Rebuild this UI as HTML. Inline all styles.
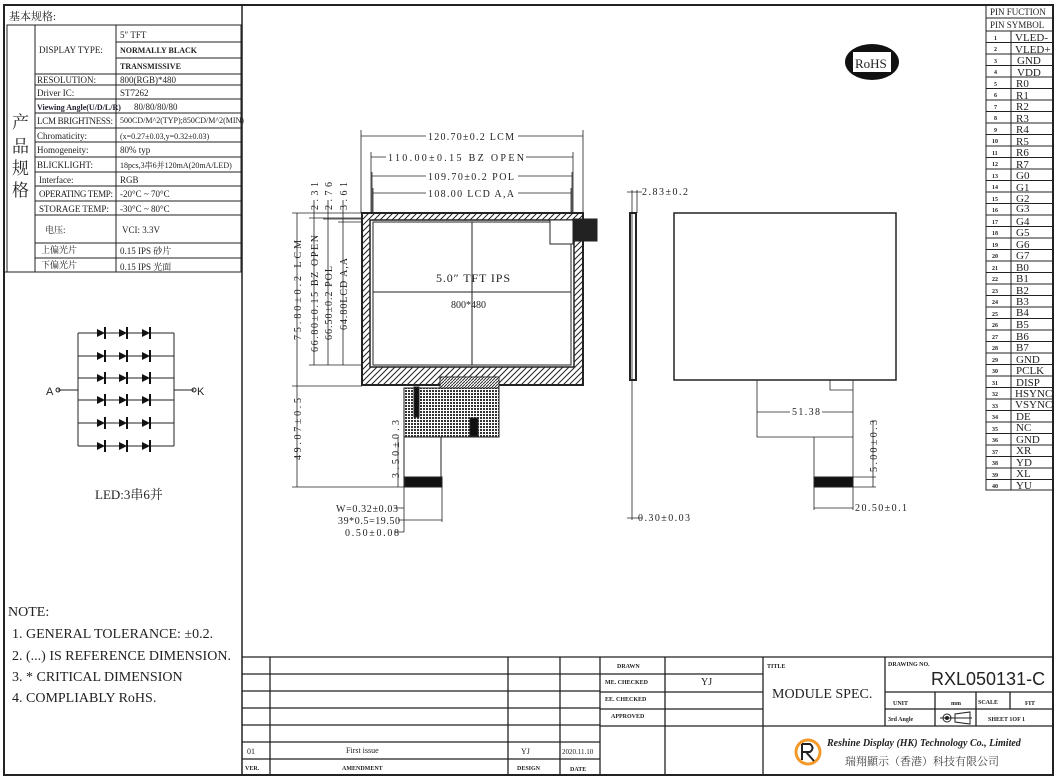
<!DOCTYPE html>
<html><head><meta charset="utf-8"><style>
html,body{margin:0;padding:0;background:#fff}
svg{display:block}
text{font-family:"Liberation Serif","Noto Serif CJK SC",serif;fill:#222}
.s{font-family:"Liberation Sans","Noto Sans CJK SC",sans-serif}
</style></head><body>
<svg width="1058" height="779" viewBox="0 0 1058 779" xmlns="http://www.w3.org/2000/svg">
<defs>
<pattern id="hat" width="6" height="6" patternUnits="userSpaceOnUse"><rect width="6" height="6" fill="#fff"/><path d="M0 6L6 0M-1 1L1 -1M5 7L7 5" stroke="#222" stroke-width="1"/></pattern>
<pattern id="chk" width="3" height="3" patternUnits="userSpaceOnUse"><rect width="3" height="3" fill="#fff"/><rect width="2" height="2" fill="#333"/></pattern>
<pattern id="dg" width="3" height="3" patternUnits="userSpaceOnUse"><rect width="3" height="3" fill="#fff"/><path d="M0 3L3 0" stroke="#333"/></pattern>
</defs>
<g fill="none" stroke="#222">
<rect x="4" y="5" width="1049" height="770" stroke-width="2"/>
<line x1="242" y1="5" x2="242" y2="775" stroke-width="1.5"/>
<rect x="7" y="25" width="234" height="247"/>
<line x1="35" y1="25" x2="35" y2="272"/>
<line x1="116" y1="25" x2="116" y2="272"/>
<path d="M116 42H241M116 58H241M35 74H241M35 85H241M35 99H241M35 113H241M35 128H241M35 142H241M35 157H241M35 172H241M35 186H241M35 201H241M35 215H241M35 243H241M35 258H241"/>
<line x1="5" y1="272" x2="242" y2="272"/>
<path d="M78 333V446M174 333V446M58 390H78M174 390H194M78 333H174M78 356H174M78 378H174M78 400H174M78 423H174M78 446H174"/>
<circle cx="58" cy="390" r="2"/><circle cx="194" cy="390" r="2"/>
</g>
<g fill="#111">
<path d="M97 329l8 4-8 4zM119 329l8 4-8 4zM142 329l8 4-8 4z"/>
<path d="M97 352l8 4-8 4zM119 352l8 4-8 4zM142 352l8 4-8 4z"/>
<path d="M97 374l8 4-8 4zM119 374l8 4-8 4zM142 374l8 4-8 4z"/>
<path d="M97 396l8 4-8 4zM119 396l8 4-8 4zM142 396l8 4-8 4z"/>
<path d="M97 419l8 4-8 4zM119 419l8 4-8 4zM142 419l8 4-8 4z"/>
<path d="M97 442l8 4-8 4zM119 442l8 4-8 4zM142 442l8 4-8 4z"/>
</g>
<g stroke="#111" stroke-width="2">
<path d="M105 327v12M127 327v12M150 327v12M105 350v12M127 350v12M150 350v12M105 372v12M127 372v12M150 372v12M105 394v12M127 394v12M150 394v12M105 417v12M127 417v12M150 417v12M105 440v12M127 440v12M150 440v12"/>
</g>
<text x="46" y="395" font-size="11" class="s">A</text><text x="197" y="395" font-size="11" class="s">K</text>
<text x="95" y="499" font-size="13">LED:3串6并</text>
<g font-size="9">
<text x="9" y="20" font-size="11">基本规格:</text>
<text x="39" y="53">DISPLAY TYPE:</text>
<text x="120" y="38">5″ TFT</text>
<text x="120" y="53" font-weight="bold" font-size="8">NORMALLY BLACK</text>
<text x="120" y="69" font-weight="bold" font-size="8">TRANSMISSIVE</text>
<text x="37" y="83">RESOLUTION:</text><text x="120" y="83">800(RGB)*480</text>
<text x="37" y="96">Driver IC:</text><text x="120" y="96">ST7262</text>
<text x="37" y="110" font-weight="bold" font-size="8" style="fill:#223">Viewing Angle(U/D/L/R)</text><text x="134" y="110">80/80/80/80</text>
<text x="37" y="124" textLength="76">LCM BRIGHTNESS:</text><text x="120" y="123" font-size="8">500CD/M^2(TYP);850CD/M^2(MIN)</text>
<text x="37" y="139">Chromaticity:</text><text x="120" y="139" font-size="8">(x=0.27±0.03,y=0.32±0.03)</text>
<text x="37" y="153">Homogeneity:</text><text x="120" y="153">80% typ</text>
<text x="37" y="168">BLICKLIGHT:</text><text x="120" y="168" font-size="8">18pcs,3串6并120mA(20mA/LED)</text>
<text x="39" y="183">Interface:</text><text x="120" y="183">RGB</text>
<text x="39" y="197" textLength="74">OPERATING TEMP:</text><text x="120" y="197">-20°C ~ 70°C</text>
<text x="39" y="212">STORAGE TEMP:</text><text x="120" y="212">-30°C ~ 80°C</text>
<text x="45" y="233">电压:</text><text x="122" y="233">VCI: 3.3V</text>
<text x="41" y="253">上偏光片</text><text x="120" y="254">0.15 IPS 砂片</text>
<text x="41" y="268">下偏光片</text><text x="120" y="270">0.15 IPS 光面</text>
</g>
<g font-size="17"><text x="12" y="128">产</text><text x="12" y="152">品</text><text x="12" y="174">规</text><text x="12" y="196">格</text></g>
<g font-size="14">
<text x="8" y="616">NOTE:</text>
<text x="12" y="638">1. GENERAL TOLERANCE: ±0.2.</text>
<text x="12" y="660">2. (...) IS REFERENCE DIMENSION.</text>
<text x="12" y="681">3. * CRITICAL DIMENSION</text>
<text x="12" y="702">4. COMPLIABLY RoHS.</text>
</g>
<g fill="none" stroke="#222">
<path d="M242 657H600M242 674H600M242 691H600M242 708H600M242 725H600M242 742H600M242 759H600M270 657V775M508 657V775M560 657V775M600 657V775" stroke-width="1.3"/>
<path d="M600 657H1053M600 674H763M600 692H763M600 709H763M600 726H1053M885 692H1053M885 709H1053M665 657V775M763 657V775M885 657V726M935 692V726M976 692V726M1010 692V709" stroke-width="1.3"/>
</g>
<g font-size="8">
<text x="247" y="754">01</text><text x="346" y="753">First issue</text><text x="521" y="754">YJ</text><text x="562" y="754" font-size="7">2020.11.10</text>
<text x="245" y="770" font-size="6" font-weight="bold">VER.</text><text x="342" y="770" font-size="6" font-weight="bold">AMENDMENT</text><text x="517" y="770" font-size="6" font-weight="bold">DESIGN</text><text x="570" y="771" font-size="6" font-weight="bold">DATE</text>
<g font-size="6" font-weight="bold"><text x="617" y="668">DRAWN</text><text x="605" y="684">ME. CHECKED</text><text x="605" y="701">EE. CHECKED</text><text x="611" y="718">APPROVED</text>
<text x="767" y="668">TITLE</text><text x="888" y="666">DRAWING NO.</text><text x="893" y="705">UNIT</text><text x="951" y="705">mm</text><text x="978" y="704">SCALE</text><text x="1025" y="705">FIT</text>
<text x="888" y="721">3rd Angle</text><text x="988" y="721">SHEET 1OF 1</text></g>
<text x="701" y="685" font-size="10">YJ</text>
<text x="772" y="698" font-size="14">MODULE SPEC.</text>
<text x="931" y="685" font-size="18" class="s">RXL050131-C</text>
<circle cx="947" cy="718" r="4" fill="none" stroke="#222"/><circle cx="947" cy="718" r="2" fill="#222"/><path d="M940 718H972M955 714V722L970 724V712Z" fill="none" stroke="#222"/>
<text x="827" y="746" font-size="10" font-weight="bold" font-style="italic">Reshine Display (HK) Technology Co., Limited</text>
<text x="845" y="765" font-size="11" style="fill:#444">瑞翔顯示（香港）科技有限公司</text>
</g>
<circle cx="808" cy="752" r="12" fill="none" stroke="#f39a2a" stroke-width="3"/><path d="M802 744V760M802 744H810Q815 748 810 752H802M806 752L814 761" stroke="#222" stroke-width="2" fill="none"/>
<ellipse cx="872" cy="62" rx="27" ry="18" fill="#111"/><rect x="853" y="52" width="38" height="20" fill="#fff"/><text x="855" y="68" font-size="13">RoHS</text>
<g fill="none" stroke="#222">
<rect x="362" y="213" width="221" height="172" fill="url(#hat)" stroke-width="2"/>
<rect x="370" y="220" width="204" height="147" fill="#fff" stroke-width="1.5"/>
<rect x="373" y="222" width="198" height="143" stroke-width="1"/>
<path d="M472 222V365M373 292H571"/>
<rect x="550" y="220" width="23" height="24" fill="#fff"/>
<rect x="573" y="219" width="24" height="22" fill="#222"/>
<rect x="440" y="377" width="59" height="11" fill="url(#dg)"/>
<path d="M404 388H499V437H441V487H404Z" fill="#fff"/>
<rect x="404" y="388" width="95" height="49" fill="url(#chk)"/>
<rect x="405" y="477" width="37" height="10" fill="#111"/>
<rect x="470" y="418" width="8" height="18" fill="#111"/>
<rect x="414" y="387" width="5" height="30" fill="#111"/>
<path d="M361 136H583M371 157H573M372 176H572M373 193H571M361 130V213M583 130V213M371 152V213M573 152V213M372 172V213M572 172V213M373 188V213M571 188V213" stroke-width="0.8"/>
<path d="M297 213V487M314 218V365M328 219V365M343 222V365M292 213H362M292 386H362M292 487H404M309 218H362M323 219H362M338 222H362M309 365H362M323 365H362M338 365H362" stroke-width="0.8"/>
<path d="M314 200V218M328 200V219M343 200V222M398 437V487M404 487V532M442 487V522M398 520H442M394 508H404M394 532H404" stroke-width="0.8"/>
<rect x="630" y="213" width="6" height="167" stroke-width="2"/>
<path d="M632 190V520M637 190V213M627 192H642M627 518H642" stroke-width="0.8"/>
<rect x="674" y="213" width="222" height="167" stroke-width="1.5"/>
<path d="M757 380V437H814V487H853V380M830 380V390H853M814 437H853" stroke-width="0.8"/>
<rect x="814" y="477" width="39" height="10" fill="#111"/>
<path d="M757 412H853M853 477H876M853 487H876M873 420V487M814 487V510M853 487V510M814 508H853" stroke-width="0.8"/>
</g>
<g fill="none" stroke="#222">
<rect x="986" y="5" width="67" height="485"/>
<path d="M986 18H1053M986 31H1053M1011 31V490"/>
<path d="M986 42.5H1053M986 54H1053M986 65.5H1053M986 77H1053M986 88.5H1053M986 100H1053M986 111.5H1053M986 123H1053M986 134.5H1053M986 146H1053M986 157.5H1053M986 169H1053M986 180.5H1053M986 192H1053M986 203.5H1053M986 215H1053M986 226.5H1053M986 238H1053M986 249.5H1053M986 261H1053M986 272.5H1053M986 284H1053M986 295.5H1053M986 307H1053M986 318.5H1053M986 330H1053M986 341.5H1053M986 353H1053M986 364.5H1053M986 376H1053M986 387.5H1053M986 399H1053M986 410.5H1053M986 422H1053M986 433.5H1053M986 445H1053M986 456.5H1053M986 468H1053M986 479.5H1053"/>
</g>
<g class="s" font-size="9">
<text x="990" y="15">PIN FUCTION</text><text x="990" y="28">PIN SYMBOL</text>
</g>
<g class="s" font-size="6" font-weight="bold">
<text x="994" y="40">1</text><text x="994" y="51">2</text><text x="994" y="63">3</text><text x="994" y="74">4</text><text x="994" y="86">5</text><text x="994" y="97">6</text><text x="994" y="109">7</text><text x="994" y="120">8</text><text x="994" y="132">9</text><text x="992" y="143">10</text><text x="992" y="155">11</text><text x="992" y="166">12</text><text x="992" y="178">13</text><text x="992" y="189">14</text><text x="992" y="201">15</text><text x="992" y="212">16</text><text x="992" y="224">17</text><text x="992" y="235">18</text><text x="992" y="247">19</text><text x="992" y="258">20</text><text x="992" y="270">21</text><text x="992" y="281">22</text><text x="992" y="293">23</text><text x="992" y="304">24</text><text x="992" y="316">25</text><text x="992" y="327">26</text><text x="992" y="339">27</text><text x="992" y="350">28</text><text x="992" y="362">29</text><text x="992" y="373">30</text><text x="992" y="385">31</text><text x="992" y="396">32</text><text x="992" y="408">33</text><text x="992" y="419">34</text><text x="992" y="431">35</text><text x="992" y="442">36</text><text x="992" y="454">37</text><text x="992" y="465">38</text><text x="992" y="477">39</text><text x="992" y="488">40</text>
</g>
<g class="s" font-size="11">
<text x="1015" y="41">VLED-</text><text x="1015" y="53">VLED+</text><text x="1017" y="64">GND</text><text x="1017" y="76">VDD</text><text x="1016" y="87">R0</text><text x="1016" y="99">R1</text><text x="1016" y="110">R2</text><text x="1016" y="122">R3</text><text x="1016" y="133">R4</text><text x="1016" y="145">R5</text><text x="1016" y="156">R6</text><text x="1016" y="168">R7</text><text x="1016" y="179">G0</text><text x="1016" y="191">G1</text><text x="1016" y="202">G2</text><text x="1016" y="212">G3</text><text x="1016" y="225">G4</text><text x="1016" y="236">G5</text><text x="1016" y="248">G6</text><text x="1016" y="259">G7</text><text x="1016" y="271">B0</text><text x="1016" y="282">B1</text><text x="1016" y="294">B2</text><text x="1016" y="305">B3</text><text x="1016" y="316">B4</text><text x="1016" y="328">B5</text><text x="1016" y="340">B6</text><text x="1016" y="351">B7</text><text x="1016" y="363">GND</text><text x="1016" y="374">PCLK</text><text x="1016" y="386">DISP</text><text x="1015" y="397">HSYNC</text><text x="1015" y="408">VSYNC</text><text x="1016" y="420">DE</text><text x="1016" y="431">NC</text><text x="1016" y="443">GND</text><text x="1016" y="454">XR</text><text x="1016" y="466">YD</text><text x="1016" y="477">XL</text><text x="1016" y="489">YU</text>
</g>
<g font-size="10">
<rect x="426" y="130" width="92" height="12" fill="#fff"/><text x="428" y="140" textLength="86">120.70±0.2 LCM</text>
<rect x="386" y="151" width="140" height="12" fill="#fff"/><text x="388" y="161" textLength="136">110.00±0.15 BZ OPEN</text>
<rect x="426" y="170" width="92" height="12" fill="#fff"/><text x="428" y="180" textLength="86">109.70±0.2 POL</text>
<rect x="426" y="187" width="92" height="12" fill="#fff"/><text x="428" y="197" textLength="86">108.00 LCD  A,A</text>
<text x="436" y="282" font-size="12" textLength="74">5.0″ TFT  IPS</text>
<text x="451" y="308" font-size="10">800*480</text>
<text transform="translate(301,340) rotate(-90)" textLength="100">75.80±0.2 LCM</text>
<text transform="translate(318,352) rotate(-90)" textLength="117">66.80±0.15 BZ OPEN</text>
<text transform="translate(332,340) rotate(-90)" textLength="74">66.50±0.2 POL</text>
<text transform="translate(347,330) rotate(-90)" textLength="72">64.80LCD A,A</text>
<text transform="translate(318,210) rotate(-90)" textLength="28">2.31</text>
<text transform="translate(332,210) rotate(-90)" textLength="28">2.76</text>
<text transform="translate(347,210) rotate(-90)" textLength="28">3.61</text>
<text transform="translate(301,460) rotate(-90)" textLength="62">49.07±0.5</text>
<text transform="translate(399,478) rotate(-90)" textLength="58">3.50±0.3</text>
<text x="336" y="512" textLength="62">W=0.32±0.03</text>
<text x="338" y="524" textLength="62">39*0.5=19.50</text>
<text x="345" y="536" textLength="54">0.50±0.08</text>
<text x="642" y="195" textLength="46">2.83±0.2</text>
<text x="638" y="521" textLength="52">0.30±0.03</text>
<rect x="790" y="406" width="32" height="12" fill="#fff"/><text x="792" y="415" textLength="28">51.38</text>
<text transform="translate(877,472) rotate(-90)" textLength="52">5.00±0.3</text>
<text x="855" y="511" textLength="52">20.50±0.1</text>
</g>
</svg>
</body></html>
